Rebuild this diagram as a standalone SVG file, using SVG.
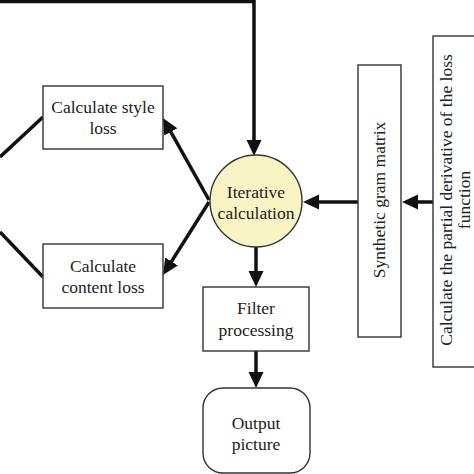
<svg xmlns="http://www.w3.org/2000/svg" width="474" height="474" viewBox="0 0 474 474">
<defs>
<marker id="ah" markerUnits="userSpaceOnUse" markerWidth="18" markerHeight="16" refX="10" refY="7.5" orient="auto">
<path d="M0,0 L16,7.5 L0,15 z" fill="#111"/>
</marker>
<style>
.box{fill:#fff;stroke:#333;stroke-width:1.4}
.circ{fill:#f9f4c4;stroke:#333;stroke-width:1.4}
.t{font-family:"Liberation Serif","Times New Roman",serif;font-size:17.5px;fill:#222;text-anchor:middle}
.c{fill:none;stroke:#111;stroke-width:3.5}
.a{fill:none;stroke:#111;stroke-width:3.5;marker-end:url(#ah)}
</style>
</defs>
<rect width="474" height="474" fill="#fff"/>
<g id="connectors">
<polyline class="a" points="0,1.5 254,1.5 254,150"/>
<line class="c" x1="0" y1="157" x2="43" y2="117"/>
<line class="c" x1="0" y1="232" x2="43" y2="277"/>
<line class="a" x1="209" y1="200" x2="165.9" y2="123.2"/>
<line class="a" x1="209" y1="202" x2="166.2" y2="269.9"/>
<line class="a" x1="358" y1="202" x2="309" y2="202"/>
<line class="a" x1="433" y1="202" x2="408" y2="202"/>
<line class="a" x1="256" y1="247" x2="256" y2="281"/>
<line class="a" x1="256" y1="351" x2="256" y2="382"/>
</g>
<g id="style-loss">
<rect class="box" x="43" y="86" width="120" height="63"/>
<text class="t" x="103" y="113">Calculate style</text>
<text class="t" x="103" y="134">loss</text>
</g>
<g id="content-loss">
<rect class="box" x="43" y="244" width="120" height="64"/>
<text class="t" x="103" y="272">Calculate</text>
<text class="t" x="103" y="293">content loss</text>
</g>
<g id="iterative">
<circle class="circ" cx="256" cy="201" r="46"/>
<text class="t" x="256" y="198">Iterative</text>
<text class="t" x="256" y="219">calculation</text>
</g>
<g id="filter">
<rect class="box" x="203" y="287" width="106" height="64"/>
<text class="t" x="256" y="314">Filter</text>
<text class="t" x="256" y="336">processing</text>
</g>
<g id="output">
<rect class="box" x="203" y="388" width="107" height="85" rx="20" ry="20"/>
<text class="t" x="256" y="429">Output</text>
<text class="t" x="256" y="450">picture</text>
</g>
<g id="gram">
<rect class="box" x="358" y="65" width="43" height="272"/>
<text class="t" transform="translate(379,200) rotate(-90)" x="0" y="6">Synthetic gram matrix</text>
</g>
<g id="partial">
<rect class="box" x="433" y="36" width="50" height="331"/>
<text class="t" transform="translate(456,200) rotate(-90)" x="0" y="-4">Calculate the partial derivative of the loss</text>
<text class="t" transform="translate(456,200) rotate(-90)" x="0" y="14">function</text>
</g>
</svg>
